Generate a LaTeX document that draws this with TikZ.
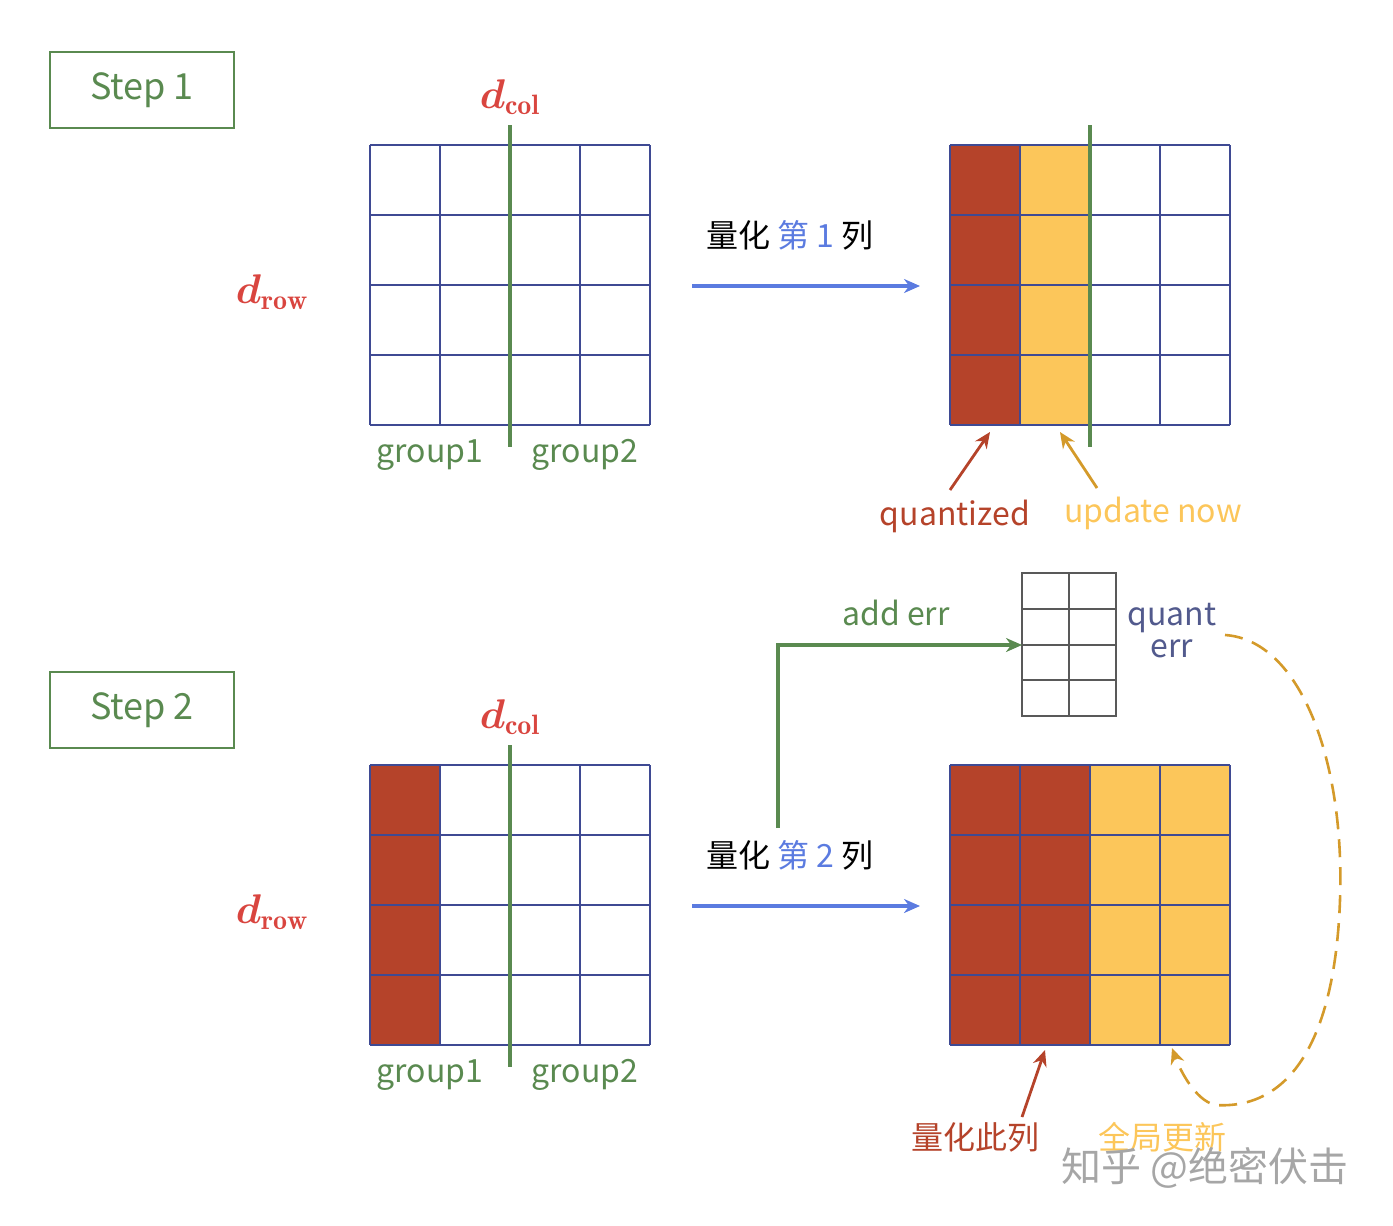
\documentclass[tikz,border=0pt]{standalone}
\usepackage{amsmath,amsbsy}
\usepackage{fontspec}
\newfontfamily\cjk{Noto Sans CJK SC}
\usetikzlibrary{arrows.meta}
\definecolor{gblue}{HTML}{3F4A93}
\definecolor{ggreen}{HTML}{5A8A50}
\definecolor{qred}{HTML}{B5432A}
\definecolor{uyel}{HTML}{FCC65A}
\definecolor{dyel}{HTML}{D49A2A}
\definecolor{dred}{HTML}{D9453F}
\definecolor{ablue}{HTML}{5B7BE0}
\begin{document}
\begin{tikzpicture}[x=0.5pt,y=-0.5pt,
  lbl/.style={font=\cjk\fontsize{16}{18}\selectfont},
  stepbox/.style={draw=ggreen,line width=1pt,minimum width=92pt,minimum height=38pt,font=\cjk\fontsize{18}{20}\selectfont,text=ggreen},
  dl/.style={text=dred,font=\fontsize{20}{22}\selectfont},
  cell/.style={draw=gblue,line width=1.1pt},
  garrow/.style={-{Stealth[length=8pt,width=7pt]},line width=1pt}]
\useasboundingbox (0,0) rectangle (1393,1226);
\foreach \oy/\s in {0/1,620/2}{
  \node[stepbox] (st\s) at (142,{90+\oy}) {Step \s};
  \node[dl] (dc\s) at (510,{97+\oy}) {$\boldsymbol{d}_{\mathbf{col}}$};
  \node[dl] (dr\s) at (272,{292+\oy}) {$\boldsymbol{d}_{\mathbf{row}}$};
  \node[lbl,text=ggreen] (ga\s) at (430,{455+\oy}) {group1};
  \node[lbl,text=ggreen] (gb\s) at (585,{455+\oy}) {group2};
  \coordinate (as\s) at (692,{286+\oy});
  \coordinate (ae\s) at (920,{286+\oy});
  \draw[garrow,draw=ablue,line width=1.6pt] (as\s) -- (ae\s);
  \node[lbl] (q\s) at (790,{235+\oy}) {量化 \textcolor{ablue}{第 \s} 列};
}
\fill[qred] (370,765) rectangle (440,1045);
\fill[qred] (950,145) rectangle (1020,425);
\fill[uyel] (1020,145) rectangle (1090,425);
\fill[qred] (950,765) rectangle (1090,1045);
\fill[uyel] (1090,765) rectangle (1230,1045);
\foreach \x/\y in {370/145,950/145,370/765,950/765}{
  \foreach \k in {0,...,4}{
    \draw[cell] ({\x+70*\k},\y) -- ({\x+70*\k},{\y+280});
    \draw[cell] (\x,{\y+70*\k}) -- ({\x+280},{\y+70*\k});
  }
}
\draw[ggreen,line width=2.4pt] (510,125) -- (510,447);
\draw[ggreen,line width=2.4pt] (1090,125) -- (1090,447);
\draw[ggreen,line width=2.4pt] (510,745) -- (510,1067);
\node[lbl,text=qred] (qz) at (955,516) {quantized};
\node[lbl,text=uyel] (un) at (1153,513) {update now};
\coordinate (qt) at (990,432);
\coordinate (ut) at (1060,432);
\draw[garrow,draw=qred,line width=1.4pt] (950,490) -- (qt);
\draw[garrow,draw=dyel,line width=1.4pt] (1097,488) -- (ut);
\draw[gray!70!black,line width=0.8pt] (1022,573) rectangle (1116,716);
\draw[gray!70!black,line width=0.8pt] (1069,573) -- (1069,716);
\foreach \y in {609,645,680}{\draw[gray!70!black,line width=0.8pt] (1022,\y) -- (1116,\y);}
\coordinate (eg) at (1022,645);
\node[lbl,text=ggreen] (ae) at (896,613) {add err};
\draw[garrow,draw=ggreen,line width=2.4pt] (778,828) |- (eg);
\node[lbl,text=gblue!70!gray,align=center] (qe) at (1172,631) {quant\\[-2pt]err};
\coordinate (ds) at (1225,635);
\coordinate (de) at (1172,1048);
\draw[dyel,dashed,dash pattern=on 9pt off 5pt,line width=1.3pt,-{Stealth[length=8pt,width=7pt]}]
  (ds) .. controls (1300,640) and (1345,760) .. (1340,900)
  .. controls (1335,1040) and (1290,1110) .. (1215,1105)
  .. controls (1195,1100) and (1180,1070) .. (de);
\draw[garrow,draw=qred,line width=1.4pt] (1022,1117) -- (1045,1050);
\node[lbl,text=qred] (lc) at (975,1137) {量化此列};
\node[lbl,text=uyel] (gu) at (1162,1137) {全局更新};
\node[lbl,text=gray!70,font=\cjk\fontsize{20}{22}\selectfont] (wm) at (1205,1168) {知乎 @绝密伏击};
\end{tikzpicture}
\end{document}
